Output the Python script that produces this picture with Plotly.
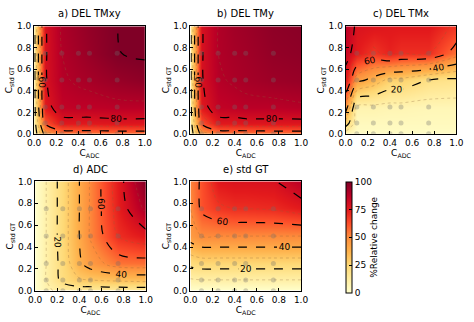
import plotly.graph_objects as go

# Sampled design grid
c_adc = [0.0, 0.1, 0.25, 0.4, 0.5, 0.75, 1.0]
c_std_gt = [0.0, 0.1, 0.25, 0.5, 0.75, 1.0]

# % relative change; rows follow c_std_gt, columns follow c_adc
del_tmxy = [
    [12, 45, 52, 53, 53, 54, 54],
    [14, 62, 76, 76, 76, 77, 77],
    [15, 76, 86, 87, 87, 88, 88],
    [16, 79, 89, 91, 92, 95, 97],
    [16, 79, 90, 93, 95, 99.8, 101],
    [16, 79, 91, 94, 96, 99.9, 103],
]
del_tmy = [
    [12, 45, 52, 53, 53, 54, 54],
    [14, 62, 76, 76, 77, 77, 77],
    [15, 76, 86, 87, 88, 88, 89],
    [16, 79, 89, 91, 92, 94, 95],
    [16, 79, 90, 92, 93, 96, 97],
    [16, 79, 90, 93, 94, 97, 98],
]
del_tmx = [
    [5, 2, 2, 2, 2, 2, 2],
    [27, 4, 4, 4, 4, 4, 4],
    [46, 8, 8, 7, 7, 6, 6],
    [75, 44, 36, 27, 27, 20, 18],
    [84, 75, 68, 73, 70, 70, 55],
    [88, 78, 77, 76, 76, 76, 68],
]
adc = [
    [0, 8, 13, 14, 14, 14, 14],
    [0, 10, 23, 29, 30, 32, 33],
    [0, 10, 24, 38, 45, 55, 56],
    [0, 10, 25, 40, 51, 70, 76],
    [0, 10, 25, 40, 51, 74, 92],
    [0, 10, 25, 40, 51, 75, 100],
]
std_gt = [
    [0, 0, 0, 0, 0, 0, 0],
    [9, 10, 10, 10, 10, 10, 10],
    [23, 25, 25, 25, 25, 25, 25],
    [45, 50, 50, 50, 50, 50, 50],
    [50, 62, 68, 70, 70, 71, 75],
    [52, 62, 76, 78, 78, 79, 88],
]

panel_titles = ["a) DEL TMxy", "b) DEL TMy", "c) DEL TMx", "d) ADC", "e) std GT"]
panel_data = [del_tmxy, del_tmy, del_tmx, adc, std_gt]
axis_ticks = [0.0, 0.2, 0.4, 0.6, 0.8, 1.0]
cbar_ticks = [0, 25, 50, 75, 100]

W, H = 474, 322
# panel boxes in pixels: left, right, top, bottom
boxes = [
    (28, 142, 22, 133),
    (189, 303, 22, 133),
    (349, 463, 22, 133),
    (29, 143, 182, 295),
    (189, 303, 182, 295),
]

ylorrd = [
    [0.0, "#ffffcc"], [0.125, "#ffeda0"], [0.25, "#fed976"], [0.375, "#feb24c"],
    [0.5, "#fd8d3c"], [0.625, "#fc4e2a"], [0.75, "#e31a1c"], [0.875, "#bd0026"],
    [1.0, "#800026"],
]

font_family = "DejaVu Sans"
fig = go.Figure()
layout = dict(
    width=W, height=H, margin=dict(l=0, r=0, t=0, b=0),
    paper_bgcolor="white", plot_bgcolor="white",
    showlegend=False, font=dict(family=font_family, size=9, color="black"),
    coloraxis=dict(
        colorscale=ylorrd, cmin=0, cmax=100,
        colorbar=dict(
            x=349 / W, xanchor="left", xpad=0,
            y=(H - 297) / H, yanchor="bottom", ypad=0,
            len=115 / H, lenmode="fraction", thickness=6, thicknessmode="pixels",
            tickvals=cbar_ticks, ticks="inside", ticklen=3, tickcolor="black",
            tickfont=dict(size=9, family=font_family),
            outlinewidth=1, outlinecolor="black",
            title=dict(text="%Relative change", side="right",
                       font=dict(size=9, family=font_family)),
        ),
    ),
    annotations=[],
)

dot_x = c_adc[1:-1]
dot_y = c_std_gt[:-1]

for i, (title, z) in enumerate(zip(panel_titles, panel_data)):
    n = i + 1
    xa, ya = f"x{n}", f"y{n}"
    l, r, t, b = boxes[i]
    xdom = [l / W, r / W]
    ydom = [(H - b) / H, (H - t) / H]

    # smooth colour field with dotted odd-decade contours
    fig.add_trace(go.Contour(
        x=c_adc, y=c_std_gt, z=z, coloraxis="coloraxis",
        contours=dict(coloring="heatmap", start=10, end=90, size=20),
        line=dict(color="rgba(140,100,60,0.3)", width=1, dash="dot"),
        xaxis=xa, yaxis=ya, hoverinfo="skip",
    ))
    # dashed labelled contours every 20 %
    fig.add_trace(go.Contour(
        x=c_adc, y=c_std_gt, z=z, showscale=False,
        contours=dict(coloring="none", start=20, end=100, size=20, showlabels=True,
                      labelfont=dict(size=9, color="black", family=font_family)),
        line=dict(color="black", width=1.2, dash="dash"),
        xaxis=xa, yaxis=ya, hoverinfo="skip",
    ))
    # sampled design points
    fig.add_trace(go.Scatter(
        x=[xv for yv in dot_y for xv in dot_x],
        y=[yv for yv in dot_y for xv in dot_x],
        mode="markers", marker=dict(size=5, color="rgba(110,110,110,0.32)"),
        xaxis=xa, yaxis=ya, hoverinfo="skip",
    ))

    axis_common = dict(
        range=[0, 1], tickvals=axis_ticks, tickformat=".1f",
        showgrid=False, zeroline=False, showline=True, mirror=True,
        linecolor="black", linewidth=1, ticks="inside", ticklen=3,
        tickcolor="black", tickfont=dict(size=9, family=font_family),
    )
    layout[f"xaxis{n}"] = dict(axis_common, domain=xdom, anchor=ya,
                               title=dict(text="C<sub>ADC</sub>", standoff=1,
                                          font=dict(size=9)))
    layout[f"yaxis{n}"] = dict(axis_common, domain=ydom, anchor=xa,
                               title=dict(text="C<sub>std GT</sub>", standoff=2,
                                          font=dict(size=9)))
    layout["annotations"].append(dict(
        text=title, xref="paper", yref="paper",
        x=(l + r) / 2 / W, y=(H - t + 5) / H, xanchor="center", yanchor="bottom",
        showarrow=False, font=dict(size=10, family=font_family),
    ))

fig.update_layout(**layout)
fig.write_html("out.html")
